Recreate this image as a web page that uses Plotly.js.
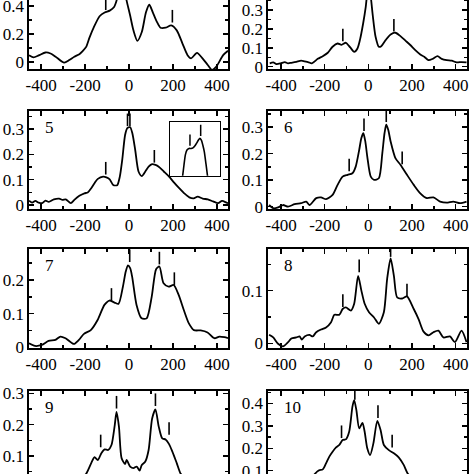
<!DOCTYPE html>
<html>
<head>
<meta charset="utf-8">
<script src="https://cdn.plot.ly/plotly-3.0.1.min.js"></script>
<style>
html,body{margin:0;padding:0;width:474px;height:474px;overflow:hidden;background:#fff;}
#chart{position:absolute;left:0;top:-40px;width:474px;height:540px;}
</style>
</head>
<body>
<div id="chart"></div>
<script>
// ---- tick labels ----
const xTickVals = [-400, -200, 0, 200, 400];
const xTickText = ['-400', '-200', '0', '200', '400'];

// ---- panel 3 ----
const p3X = [-455,-434,-411,-380,-357,-334,-295,-272,-249,-226,-211,-195,-180,-160,-134,-111,-88,-69,-57,-45,-32,-20,-11,5,20,38,58,77,92,108,125,143,166,192,217,243,266,282,309,335,358,377,397,428,450];
const p3Y = [0.049,0.033,0.047,0.068,0.061,0.038,-0.005,0.014,0.038,0.056,0.078,0.108,0.174,0.249,0.327,0.353,0.367,0.391,0.438,0.53,0.58,0.51,0.438,0.332,0.226,0.151,0.214,0.355,0.409,0.355,0.292,0.245,0.245,0.261,0.226,0.132,0.049,0.026,0.066,0.024,-0.021,-0.056,-0.033,0.049,0.08];
const p3MarkX = [-106, 197];
const p3MarkY = [0.416, 0.327];

// ---- panel 4 ----
const p4X = [-452,-436,-421,-402,-383,-368,-353,-330,-308,-292,-277,-259,-232,-209,-186,-164,-141,-123,-103,-83,-65,-50,-38,-24,-12,-5,3,11,20,33,48,59,79,102,124,147,170,192,215,238,256,276,295,317,336,359,382,405,427,450];
const p4Y = [0.018,0.023,0.014,0.018,0.025,0.018,0.021,0.026,0.032,0.028,0.025,0.018,0.042,0.056,0.074,0.106,0.123,0.116,0.127,0.102,0.079,0.097,0.145,0.229,0.317,0.388,0.42,0.37,0.273,0.159,0.106,0.109,0.141,0.171,0.18,0.162,0.138,0.115,0.088,0.065,0.053,0.035,0.042,0.056,0.042,0.035,0.032,0.023,0.025,0.023];
const p4MarkX = [-117, 117];
const p4MarkY = [0.168, 0.22];

// ---- panel 5 ----
const p5X = [-455,-441,-426,-411,-395,-380,-365,-342,-318,-303,-288,-265,-249,-226,-203,-188,-172,-157,-142,-118,-103,-88,-72,-54,-42,-31,-18,-8,5,15,28,43,58,74,89,105,120,135,158,182,205,228,251,274,294,312,335,358,382,405,423,443,450];
const p5Y = [0.017,0.009,0.016,0.009,0.007,0.017,0.012,0.022,0.025,0.02,0.022,0.007,0.02,0.036,0.046,0.049,0.066,0.086,0.103,0.112,0.109,0.101,0.079,0.078,0.112,0.178,0.276,0.303,0.307,0.283,0.217,0.132,0.114,0.132,0.151,0.161,0.158,0.151,0.132,0.112,0.088,0.066,0.046,0.03,0.026,0.033,0.025,0.022,0.014,0.007,0.016,0.009,0.007];
const p5MarkX = [-106, -7, 4, 115];
const p5MarkY = [0.145, 0.336, 0.336, 0.192];

// ---- panel 5 inset ----
const insetX = [-12.5,-11,-9.5,-8,-6,-4,-2,0,2,3.5,5,6.5,8,9.3,11,12.7];
const insetY = [-0.03,0.2,0.4,0.48,0.51,0.51,0.52,0.56,0.62,0.67,0.7,0.66,0.56,0.45,0.22,-0.03];
const insetMarkX = [-5, 5.7];
const insetMarkY = [0.667, 0.85];

// ---- panel 6 ----
const p6X = [-455,-436,-414,-391,-368,-338,-308,-285,-270,-239,-217,-194,-164,-141,-118,-95,-73,-58,-42,-32,-23,-14,-5,11,26,48,64,74,82,91,102,124,147,177,208,238,268,298,329,359,389,420,450];
const p6Y = [0.006,-0.006,-0.003,0.006,0.0,0.009,0.013,0.019,0.006,0.032,0.035,0.028,0.044,0.082,0.113,0.12,0.126,0.151,0.214,0.259,0.277,0.246,0.189,0.113,0.101,0.107,0.202,0.277,0.309,0.29,0.246,0.183,0.158,0.12,0.082,0.05,0.032,0.035,0.019,0.015,0.019,0.013,0.019];
const p6MarkX = [-88, -20, 82, 155];
const p6MarkY = [0.157, 0.309, 0.343, 0.184];

// ---- panel 7 ----
const p7X = [-455,-428,-397,-366,-335,-312,-289,-251,-228,-205,-174,-143,-112,-89,-66,-48,-28,-15,-5,5,14,34,57,80,103,123,138,157,180,203,226,249,272,295,326,357,388,411,434,450];
const p7Y = [0.012,0.004,0.007,0.019,0.022,0.032,0.027,0.01,0.022,0.04,0.051,0.081,0.126,0.139,0.133,0.129,0.18,0.225,0.243,0.235,0.21,0.126,0.086,0.086,0.15,0.232,0.24,0.19,0.18,0.185,0.155,0.111,0.071,0.051,0.05,0.044,0.027,0.032,0.03,0.027];
const p7MarkX = [-80, 3, 138, 206];
const p7MarkY = [0.157, 0.272, 0.265, 0.204];

// ---- panel 8 ----
const p8X = [-455,-436,-414,-391,-368,-353,-330,-315,-305,-292,-270,-255,-239,-217,-194,-171,-156,-133,-118,-103,-80,-65,-47,-32,-17,3,26,48,71,86,102,117,132,155,177,208,230,253,276,298,321,344,374,397,427,450];
const p8Y = [0.016,0.011,-0.001,-0.006,0.002,0.009,0.011,0.013,0.007,0.013,0.016,0.013,0.021,0.026,0.03,0.04,0.054,0.054,0.065,0.068,0.062,0.075,0.128,0.1,0.075,0.059,0.049,0.037,0.059,0.122,0.161,0.128,0.087,0.085,0.089,0.065,0.046,0.022,0.015,0.021,0.024,0.011,0.013,0.002,0.024,0.002];
const p8MarkX = [-117, -42, 102, 177];
const p8MarkY = [0.081, 0.147, 0.176, 0.101];

// ---- panel 9 ----
const p9X = [-455,-400,-340,-290,-240,-210,-195,-172,-157,-142,-126,-111,-95,-80,-65,-57,-46,-34,-18,-11,5,20,35,48,58,74,89,105,120,135,151,166,182,197,217,235,260,300,360,450];
const p9Y = [0.01,0.012,0.015,0.02,0.028,0.035,0.043,0.077,0.096,0.087,0.109,0.121,0.119,0.135,0.199,0.241,0.194,0.093,0.074,0.087,0.066,0.061,0.066,0.053,0.071,0.082,0.119,0.22,0.249,0.194,0.156,0.153,0.138,0.114,0.077,0.043,0.025,0.015,0.012,0.01];
const p9MarkX = [-129, -57, 120, 182];
const p9MarkY = [0.148, 0.272, 0.28, 0.188];

// ---- panel 10 ----
const p10X = [-455,-380,-320,-280,-250,-235,-224,-209,-194,-179,-164,-148,-133,-118,-103,-88,-73,-65,-55,-42,-27,-17,-5,8,23,41,56,71,94,117,139,162,180,210,250,320,400,450];
const p10Y = [0.015,0.02,0.035,0.055,0.08,0.096,0.103,0.106,0.133,0.163,0.185,0.204,0.215,0.237,0.24,0.274,0.386,0.415,0.371,0.289,0.314,0.274,0.2,0.17,0.222,0.323,0.282,0.215,0.192,0.178,0.16,0.126,0.088,0.06,0.04,0.025,0.018,0.015];
const p10MarkX = [-123, -62, 44, 109];
const p10MarkY = [0.274, 0.445, 0.364, 0.232];

const panelLabels = ['5', '6', '7', '8', '9', '10'];

// ---- layout geometry (paper fractions; div is 540 tall starting 40px above the window) ----
const colDom = [[0.0612, 0.4810], [0.5654, 0.9852]];
const rowDom = [[0.7981, 0.9815], [0.5389, 0.7204], [0.2815, 0.4648], [0.0185, 0.2019]];
const colRange = [[-455, 450], [-460, 452]];

const panels = [
  {x: p3X, y: p3Y, mx: p3MarkX, my: p3MarkY, col: 0, row: 0, yr: [-0.05, 0.657], dt: 0.2, mdt: 0.1},
  {x: p4X, y: p4Y, mx: p4MarkX, my: p4MarkY, col: 1, row: 0, yr: [-0.012, 0.512], dt: 0.1, mdt: 0.05},
  {x: p5X, y: p5Y, mx: p5MarkX, my: p5MarkY, col: 0, row: 1, yr: [-0.016, 0.371], dt: 0.1, mdt: 0.05},
  {x: p6X, y: p6Y, mx: p6MarkX, my: p6MarkY, col: 1, row: 1, yr: [-0.009, 0.361], dt: 0.1, mdt: 0.05},
  {x: p7X, y: p7Y, mx: p7MarkX, my: p7MarkY, col: 0, row: 2, yr: [-0.002, 0.292], dt: 0.1, mdt: 0.05},
  {x: p8X, y: p8Y, mx: p8MarkX, my: p8MarkY, col: 1, row: 2, yr: [-0.009, 0.179], dt: 0.1, mdt: 0.05},
  {x: p9X, y: p9Y, mx: p9MarkX, my: p9MarkY, col: 0, row: 3, yr: [-0.009, 0.308], dt: 0.1, mdt: 0.05},
  {x: p10X, y: p10Y, mx: p10MarkX, my: p10MarkY, col: 1, row: 3, yr: [0.014, 0.456], dt: 0.1, mdt: 0.05}
];

const FONT = 'Liberation Serif, Times New Roman, serif';
const tickFont = {family: FONT, size: 17, color: '#000'};
const traces = [];
const layout = {
  width: 474, height: 540,
  margin: {l: 0, r: 0, t: 0, b: 0},
  paper_bgcolor: '#fff', plot_bgcolor: '#fff',
  showlegend: false,
  annotations: []
};

panels.forEach((p, i) => {
  const n = i + 1;
  const xa = n === 1 ? 'x' : 'x' + n;
  const ya = n === 1 ? 'y' : 'y' + n;
  traces.push({x: p.x, y: p.y, xaxis: xa, yaxis: ya, type: 'scatter', mode: 'lines',
    line: {color: '#000', width: 1.8, shape: 'spline', smoothing: 0.7}, hoverinfo: 'skip'});
  traces.push({x: p.mx, y: p.my, xaxis: xa, yaxis: ya, type: 'scatter', mode: 'markers',
    marker: {symbol: 'line-ns-open', size: 9, color: '#000', line: {color: '#000', width: 1.6}}, hoverinfo: 'skip'});
  layout['xaxis' + (n === 1 ? '' : n)] = {
    domain: colDom[p.col], range: colRange[p.col], anchor: ya,
    showline: true, linecolor: '#000', linewidth: 1.6, mirror: 'ticks',
    ticks: 'inside', ticklen: 5, tickwidth: 1.4, tickcolor: '#000',
    tickmode: 'array', tickvals: xTickVals, ticktext: xTickText,
    minor: {tickmode: 'linear', tick0: 0, dtick: 100, ticks: 'inside', ticklen: 3, tickwidth: 1.4, tickcolor: '#000'},
    showgrid: false, zeroline: false, tickfont: tickFont, fixedrange: true
  };
  layout['yaxis' + (n === 1 ? '' : n)] = {
    domain: rowDom[p.row], range: p.yr, anchor: xa,
    showline: true, linecolor: '#000', linewidth: 1.6, mirror: 'ticks',
    ticks: 'inside', ticklen: 5, tickwidth: 1.4, tickcolor: '#000',
    tickmode: 'linear', tick0: 0, dtick: p.dt,
    minor: {tickmode: 'linear', tick0: 0, dtick: p.mdt, ticks: 'inside', ticklen: 3, tickwidth: 1.4, tickcolor: '#000'},
    showgrid: false, zeroline: false, tickfont: tickFont, fixedrange: true
  };
  if (i >= 2) {
    layout.annotations.push({
      text: panelLabels[i - 2], xref: xa + ' domain', yref: ya + ' domain',
      x: 0.07, y: 0.83, xanchor: 'left', yanchor: 'middle', showarrow: false,
      font: {family: FONT, size: 17, color: '#000'}
    });
  }
});

// inset in panel 5
traces.push({x: insetX, y: insetY, xaxis: 'x9', yaxis: 'y9', type: 'scatter', mode: 'lines',
  line: {color: '#000', width: 1.6, shape: 'spline', smoothing: 0.7}, hoverinfo: 'skip'});
traces.push({x: insetMarkX, y: insetMarkY, xaxis: 'x9', yaxis: 'y9', type: 'scatter', mode: 'markers',
  marker: {symbol: 'line-ns-open', size: 8, color: '#000', line: {color: '#000', width: 1.5}}, hoverinfo: 'skip'});
layout.xaxis9 = {domain: [0.3586, 0.4641], range: [-25, 25], anchor: 'y9', showline: true, mirror: true,
  linecolor: '#000', linewidth: 1.4, ticks: '', showticklabels: false, showgrid: false, zeroline: false, fixedrange: true};
layout.yaxis9 = {domain: [0.6006, 0.6994], range: [0, 1], anchor: 'x9', showline: true, mirror: true,
  linecolor: '#000', linewidth: 1.4, ticks: '', showticklabels: false, showgrid: false, zeroline: false, fixedrange: true};

Plotly.newPlot('chart', traces, layout, {staticPlot: true, displayModeBar: false});
</script>
</body>
</html>
